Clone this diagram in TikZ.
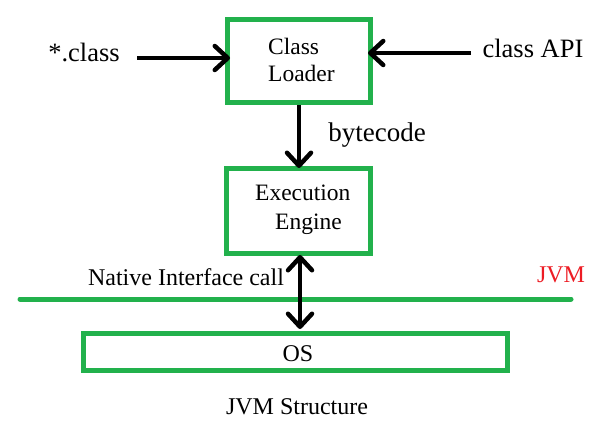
\documentclass[tikz,border=0pt]{standalone}
\usepackage{fontspec}
\setmainfont{Liberation Serif}
\usetikzlibrary{arrows.meta,calc}
\definecolor{pgreen}{RGB}{34,177,76}
\definecolor{pred}{RGB}{237,28,36}
\tikzset{
  box/.style={draw=pgreen,line width=5pt,inner sep=0pt},
  lbl/.style={inner sep=0pt,anchor=base,font=\fontsize{24}{28}\selectfont},
  big/.style={font=\fontsize{26.5}{30}\selectfont},
  btxt/.style={inner sep=0pt,anchor=base west,font=\fontsize{23.5}{27}\selectfont},
  arr/.style={line width=4.5pt,-{Straight Barb[length=13pt,width=24pt,line cap=round,line join=round]}},
  darr/.style={line width=4.5pt,{Straight Barb[length=13pt,width=24pt,line cap=round,line join=round]}-{Straight Barb[length=13pt,width=24pt,line cap=round,line join=round]}}
}
\begin{document}
\begin{tikzpicture}[x=1pt,y=-1pt]
\useasboundingbox[fill=white] (0,0) rectangle (599,433);
% boxes
\node[box,minimum width=143pt,minimum height=83pt] (cl) at (298.5,61.5) {};
\node[box,minimum width=144pt,minimum height=85pt] (ee) at (298.5,211) {};
\node[box,minimum width=424pt,minimum height=37pt] (os) at (295.5,352) {};
% box texts
\node[btxt] (t1) at (268,55) {Class};
\node[btxt] (t2) at (268,82) {Loader};
\node[btxt] (t3) at (255,200) {Execution};
\node[btxt] (t4) at (275,229) {Engine};
\node[lbl] (t5) at (298,361) {OS};
% labels
\node[lbl,big] (sc) at (84,62) {*.class};
\node[lbl,big] (api) at (533,58) {class API};
\node[lbl,font=\fontsize{27}{31}\selectfont] (bc) at (377,141) {bytecode};
\node[lbl] (nic) at (186,285) {Native Interface call};
\node[lbl,text=pred] (jvm) at (561,282) {JVM};
\node[lbl] (jst) at (297,414) {JVM Structure};
% JVM line
\coordinate (la) at (20,299);
\coordinate (lb) at (571,299);
\draw[pgreen,line width=5pt,line cap=round] (la) -- (lb);
% arrows
\coordinate (a1) at (137,58);
\coordinate (a1e) at (230,58);
\draw[arr] (a1) -- (a1e);
\coordinate (a2) at (471,53);
\coordinate (a2e) at (368,53);
\draw[arr] (a2) -- (a2e);
\draw[arr] (cl.south -| 299,0) -- ($(ee.north -| 299,0)+(0,2)$);
\draw[darr] ($(ee.south -| 300,0)+(0,-1)$) -- ($(os.north -| 300,0)+(0,-2)$);
\end{tikzpicture}
\end{document}
